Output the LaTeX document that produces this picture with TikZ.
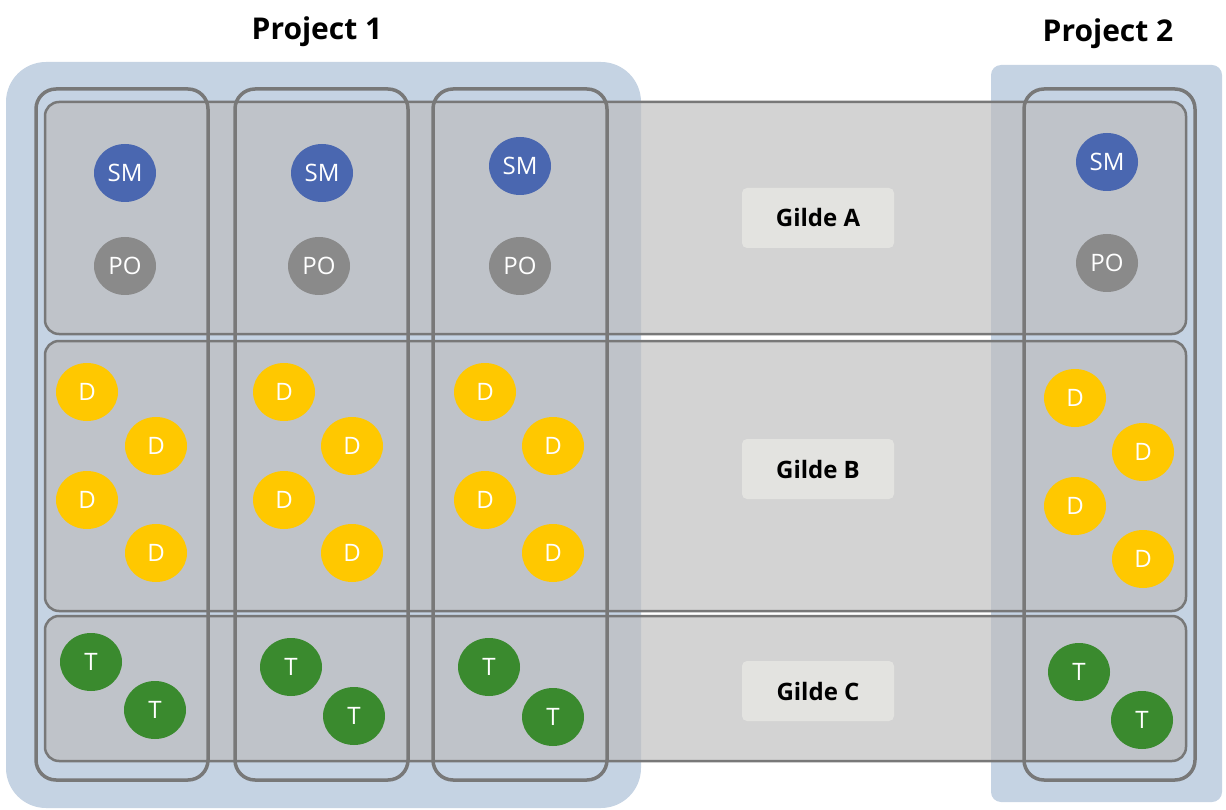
\documentclass[tikz,border=0pt]{standalone}
\usepackage{fontspec}
\setmainfont{Open Sans}
\definecolor{pblue}{RGB}{197,211,227}
\definecolor{rowc}{RGB}{188,188,188}
\definecolor{lnc}{RGB}{120,120,120}
\definecolor{smc}{RGB}{74,103,176}
\definecolor{poc}{RGB}{138,138,138}
\definecolor{dc}{RGB}{255,200,0}
\definecolor{tc}{RGB}{58,138,46}
\definecolor{lblc}{RGB}{227,227,224}
\begin{document}
\begin{tikzpicture}[x=1pt,y=-1pt,
  proj/.style={fill=pblue,draw=none},
  row/.style={fill=rowc,fill opacity=0.655,draw=lnc,line width=2.5pt,rounded corners=14pt},
  col/.style={draw=lnc,line width=3.5pt,rounded corners=20pt},
  role/.style={ellipse,minimum width=62pt,minimum height=58pt,inner sep=0pt,text=white,font=\fontsize{24}{26}\selectfont},
  sm/.style={role,fill=smc},po/.style={role,fill=poc},d/.style={role,fill=dc},t/.style={role,fill=tc},
  lbl/.style={fill=lblc,rounded corners=5pt,minimum width=152pt,minimum height=60pt,font=\bfseries\fontsize{24}{26}\selectfont},
  title/.style={font=\bfseries\fontsize{30}{32}\selectfont}]
\usetikzlibrary{shapes.geometric}
\useasboundingbox (0,0) rectangle (1226,810);
\fill[proj,rounded corners=40pt] (6,62) rectangle (641,808);
\fill[proj,rounded corners=10pt] (991,65) rectangle (1222,802);
\node[title] (p1) at (317,32) {Project 1};
\node[title] (p2) at (1108,34) {Project 2};
\draw[row] (45,102) rectangle (1186,334);
\draw[row] (45,341) rectangle (1186,611);
\draw[row] (45,616) rectangle (1186,761);
\foreach \a/\b in {36/208,235/408,433/607,1024/1195}
  \draw[col] (\a,89) rectangle (\b,780);
\node[lbl] (ga) at (818,218) {Gilde A};
\node[lbl] (gb) at (818,469) {Gilde B};
\node[lbl] (gc) at (818,691) {Gilde C};
\foreach \i/\sx/\sy/\px/\py/\dxa/\dxb/\dy/\tax/\tay/\tbx/\tby in {
  1/125/173/125/266/87/156/392/91/662/155/710,
  2/322/173/319/266/284/352/392/291/667/354/716,
  3/520/166/520/266/485/553/392/489/667/553/717,
  4/1107/162/1107/263/1075/1143/398/1079/672/1142/720}{
  \node[sm] (sm\i) at (\sx,\sy) {SM};
  \node[po] (po\i) at (\px,\py) {PO};
  \node[d] (da\i) at (\dxa,\dy) {D};
  \node[d] (db\i) at (\dxb,\dy+54) {D};
  \node[d] (dc\i) at (\dxa,\dy+108) {D};
  \node[d] (dd\i) at (\dxb,\dy+161) {D};
  \node[t] (ta\i) at (\tax,\tay) {T};
  \node[t] (tb\i) at (\tbx,\tby) {T};
}
\end{tikzpicture}
\end{document}
